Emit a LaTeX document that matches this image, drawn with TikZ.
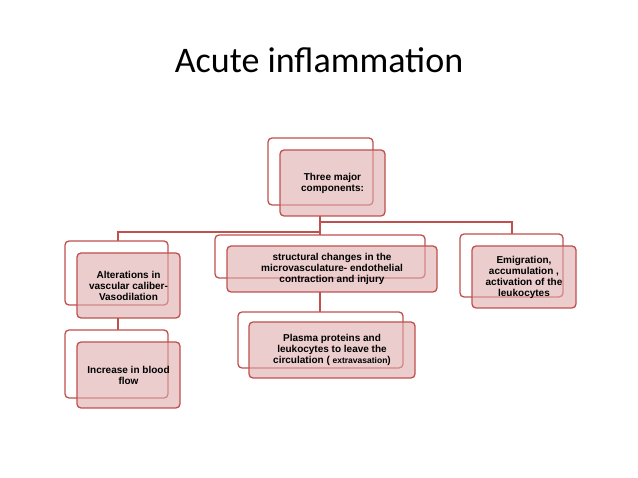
\documentclass[tikz,border=0pt]{standalone}
\usepackage{fontspec}
\setmainfont{Liberation Sans}
\newfontfamily\titlefont{Carlito}
\definecolor{edge}{RGB}{192,80,77}
\definecolor{pinkfill}{RGB}{222,172,172}
\begin{document}
\begin{tikzpicture}[x=1pt,y=-1pt,
  backbox/.style={draw=edge,line width=1.3pt,rounded corners=4pt,fill=white},
  frontbox/.style={draw=edge,line width=1.3pt,rounded corners=4pt,fill=pinkfill,fill opacity=0.6,text opacity=1,align=center,font=\bfseries\fontsize{10}{11}\selectfont,inner sep=0pt},
  conn/.style={draw=edge,line width=1.3pt}]
\useasboundingbox (0,0) rectangle (638,478);
\node[font=\titlefont\fontsize{36}{40}\selectfont] (title) at (319,60) {Acute inflammation};
% connectors
\coordinate (jA) at (320,227);
\draw[conn] (320,216) -- (320,245);
\draw[conn] (320,222) -- (512,222) -- (512,234);
\draw[conn] (320,232) -- (118,232) -- (118,241);
\draw[conn] (118,318) -- (118,330);
\draw[conn] (320,292) -- (320,312);
% boxes
\draw[backbox] (268,138) rectangle (373,205);
\node[frontbox,minimum width=105pt,minimum height=66pt] (top) at (332.5,183) {Three major\\components:};
\draw[backbox] (65,241) rectangle (168,305);
\node[frontbox,minimum width=103pt,minimum height=65pt] (alt) at (128.5,285.5) {Alterations in\\vascular caliber-\\Vasodilation};
\draw[backbox] (65,330) rectangle (168,398);
\node[frontbox,minimum width=103pt,minimum height=66pt] (inc) at (128.5,375) {Increase in blood\\flow};
\draw[backbox] (215,235) rectangle (425,278);
\node[frontbox,minimum width=210pt,minimum height=46pt] (str) at (332,269) {structural changes in the\\microvasculature- endothelial\\contraction and injury};
\draw[backbox] (238,312) rectangle (403,368);
\node[frontbox,minimum width=166pt,minimum height=56pt] (pla) at (332,350) {Plasma proteins and\\leukocytes to leave the\\circulation ( {\fontsize{8.5}{10}\selectfont extravasation})};
\draw[backbox] (460,234) rectangle (563,297);
\node[frontbox,minimum width=104pt,minimum height=62pt] (emi) at (524,277) {Emigration,\\accumulation ,\\activation of the\\leukocytes};
\end{tikzpicture}
\end{document}
